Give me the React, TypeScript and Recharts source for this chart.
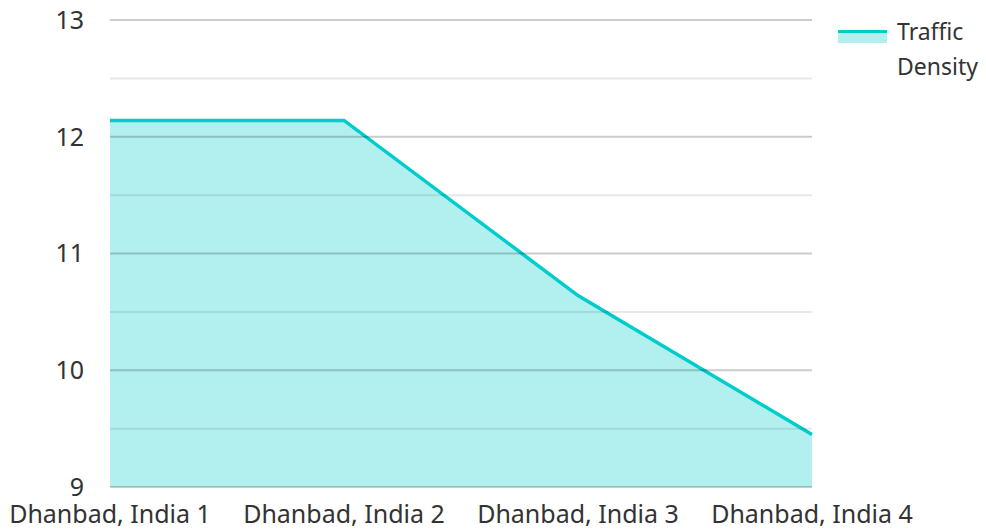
import React from 'react';
import { ComposedChart, Area, XAxis, YAxis, ReferenceLine } from 'recharts';

const categories = ['Dhanbad, India 1', 'Dhanbad, India 2', 'Dhanbad, India 3', 'Dhanbad, India 4'];
const trafficDensity = [12.14, 12.14, 10.64, 9.45];
const yTicks = [9, 10, 11, 12, 13];
const minorTicks = [9.5, 10.5, 11.5, 12.5];

const data = categories.map((name, i) => ({ name, value: trafficDensity[i] }));

const FONT = '"Noto Sans", sans-serif';
const TEAL = '#00cccc';

const LegendBox: React.FC = () => (
  <div style={{ display: 'flex', alignItems: 'flex-start', fontFamily: FONT, fontSize: 23, color: '#333', lineHeight: '35px' }}>
    <div style={{ width: 49, marginTop: 16, marginRight: 10 }}>
      <div style={{ height: 3, background: TEAL }} />
      <div style={{ height: 10, background: TEAL, opacity: 0.3 }} />
    </div>
    <div>Traffic<br />Density</div>
  </div>
);

const App: React.FC = () => {
  return (
    <div style={{ position: 'absolute', left: 0, top: 0, width: 986, height: 529 }}>
      <ComposedChart width={986} height={529} data={data} margin={{ top: 20, right: 174, bottom: 0, left: 0 }}>
        <XAxis
          dataKey="name"
          height={42}
          axisLine={false}
          tickLine={false}
          tickSize={0}
          tickMargin={18}
          interval={0}
          tick={{ fill: '#333', fontSize: 25, fontFamily: FONT }}
        />
        <YAxis
          domain={[9, 13]}
          ticks={yTicks}
          width={110}
          axisLine={false}
          tickLine={false}
          tickSize={0}
          tickMargin={26}
          tick={{ fill: '#333', fontSize: 25, fontFamily: FONT }}
        />
        <Area
          type="linear"
          dataKey="value"
          stroke="none"
          fill={TEAL}
          fillOpacity={0.3}
          baseValue={9}
          isAnimationActive={false}
          activeDot={false}
        />
        {minorTicks.map((v) => (
          <ReferenceLine key={`m${v}`} y={v} stroke="#000" strokeOpacity={0.09} strokeWidth={2} />
        ))}
        {yTicks.map((v) => (
          <ReferenceLine key={`M${v}`} y={v} stroke="#000" strokeOpacity={0.2} strokeWidth={2} />
        ))}
        <Area
          type="linear"
          dataKey="value"
          stroke={TEAL}
          strokeWidth={3.5}
          fill="none"
          isAnimationActive={false}
          activeDot={false}
        />
      </ComposedChart>
      <div style={{ position: 'absolute', left: 838, top: 14 }}>
        <LegendBox />
      </div>
    </div>
  );
};

export default App;
